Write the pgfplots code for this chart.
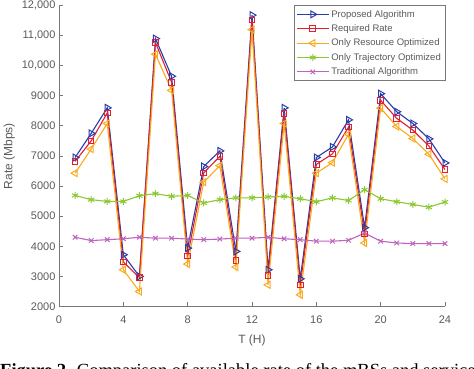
\documentclass[border=0pt]{standalone}
\usepackage{fontspec}
\setmainfont{Liberation Sans}
\newfontfamily\capfont{Liberation Serif}
\usepackage{pgfplots}
\pgfplotsset{compat=1.18}
\definecolor{cblue}{RGB}{40,60,170}
\definecolor{cred}{RGB}{225,30,50}
\definecolor{corange}{RGB}{250,170,30}
\definecolor{cgreen}{RGB}{140,200,50}
\definecolor{cpurple}{RGB}{190,100,190}
\definecolor{tickgray}{RGB}{90,90,90}
\definecolor{axgray}{RGB}{120,120,120}
\begin{document}
\begin{tikzpicture}[x=1pt,y=1pt]
\useasboundingbox (-59,-62.5) rectangle (415,306.5);
\begin{axis}[
  at={(0,0)}, anchor=south west,
  scale only axis, width=386pt, height=301pt,
  xmin=0, xmax=24, ymin=2000, ymax=12000,
  axis lines*=left,
  axis line style={axgray, line width=0.8pt},
  tick style={axgray, line width=0.8pt},
  major tick length=4pt,
  xtick={0,4,...,24},
  ytick={2000,3000,...,12000},
  yticklabels={2000,3000,4000,5000,6000,7000,8000,9000,{10,000},{11,000},{12,000}},
  /pgf/number format/assume math mode=true,
  ticklabel style={font=\fontsize{11}{13}\selectfont, text=tickgray},
  xticklabel style={yshift=-6pt},
  label style={font=\fontsize{12}{14}\selectfont, text=tickgray},
  xlabel style={yshift=-4pt},
  xlabel={T (H)}, ylabel={Rate (Mbps)},
  legend style={at={(1,1)}, anchor=north east, draw=axgray,
    font=\fontsize{9.5}{11}\selectfont, text=tickgray,
    row sep=2pt, inner xsep=2pt, inner ysep=2.5pt},
  legend cell align=left,
  legend image code/.code={\draw[mark repeat=2,mark phase=2] plot coordinates {(0pt,0pt) (16pt,0pt) (32pt,0pt)};},
  every axis plot/.append style={line width=1.1pt},
]
\addplot[cblue, mark=triangle, mark size=4pt, mark options={rotate=-90, solid, fill=none, line width=1pt}] coordinates {
(1,6950)(2,7750)(3,8600)(4,3720)(5,3000)(6,10900)(7,9650)(8,3940)(9,6650)(10,7170)(11,3830)(12,11680)
(13,3220)(14,8600)(15,2920)(16,6950)(17,7300)(18,8200)(19,4620)(20,9070)(21,8470)(22,8080)(23,7570)(24,6770)};
\addlegendentry{Proposed Algorithm}
\addplot[cred, mark=square, mark size=2.8pt, mark options={solid, fill=none, line width=1pt}] coordinates {
(1,6820)(2,7500)(3,8430)(4,3480)(5,2960)(6,10770)(7,9450)(8,3680)(9,6440)(10,6990)(11,3530)(12,11520)
(13,3030)(14,8420)(15,2720)(16,6720)(17,7070)(18,7960)(19,4410)(20,8850)(21,8250)(22,7860)(23,7330)(24,6550)};
\addlegendentry{Required Rate}
\addplot[corange, mark=triangle, mark size=4pt, mark options={rotate=90, solid, fill=none, line width=1pt}] coordinates {
(1,6430)(2,7230)(3,8080)(4,3220)(5,2500)(6,10380)(7,9180)(8,3410)(9,6130)(10,6680)(11,3310)(12,11200)
(13,2720)(14,8080)(15,2390)(16,6430)(17,6780)(18,7720)(19,4110)(20,8590)(21,7980)(22,7580)(23,7060)(24,6240)};
\addlegendentry{Only Resource Optimized}
\addplot[cgreen, mark=asterisk, mark size=3.5pt, mark options={solid, line width=1pt}] coordinates {
(1,5690)(2,5550)(3,5490)(4,5490)(5,5680)(6,5750)(7,5660)(8,5690)(9,5440)(10,5550)(11,5610)(12,5610)
(13,5640)(14,5660)(15,5580)(16,5480)(17,5610)(18,5520)(19,5880)(20,5580)(21,5480)(22,5390)(23,5300)(24,5470)};
\addlegendentry{Only Trajectory Optimized}
\addplot[cpurple, mark=x, mark size=3.2pt, mark options={solid, line width=1pt}] coordinates {
(1,4300)(2,4190)(3,4220)(4,4250)(5,4300)(6,4270)(7,4270)(8,4240)(9,4220)(10,4240)(11,4270)(12,4270)
(13,4300)(14,4250)(15,4220)(16,4170)(17,4170)(18,4200)(19,4440)(20,4170)(21,4110)(22,4090)(23,4090)(24,4090)};
\addlegendentry{Traditional Algorithm}
\end{axis}
\node[anchor=base west, inner sep=0pt, font=\capfont\fontsize{18.5}{20}\selectfont] at (-59,-70) {\textbf{Figure 2.} Comparison of available rate of the mBSs and service};
\end{tikzpicture}
\end{document}
